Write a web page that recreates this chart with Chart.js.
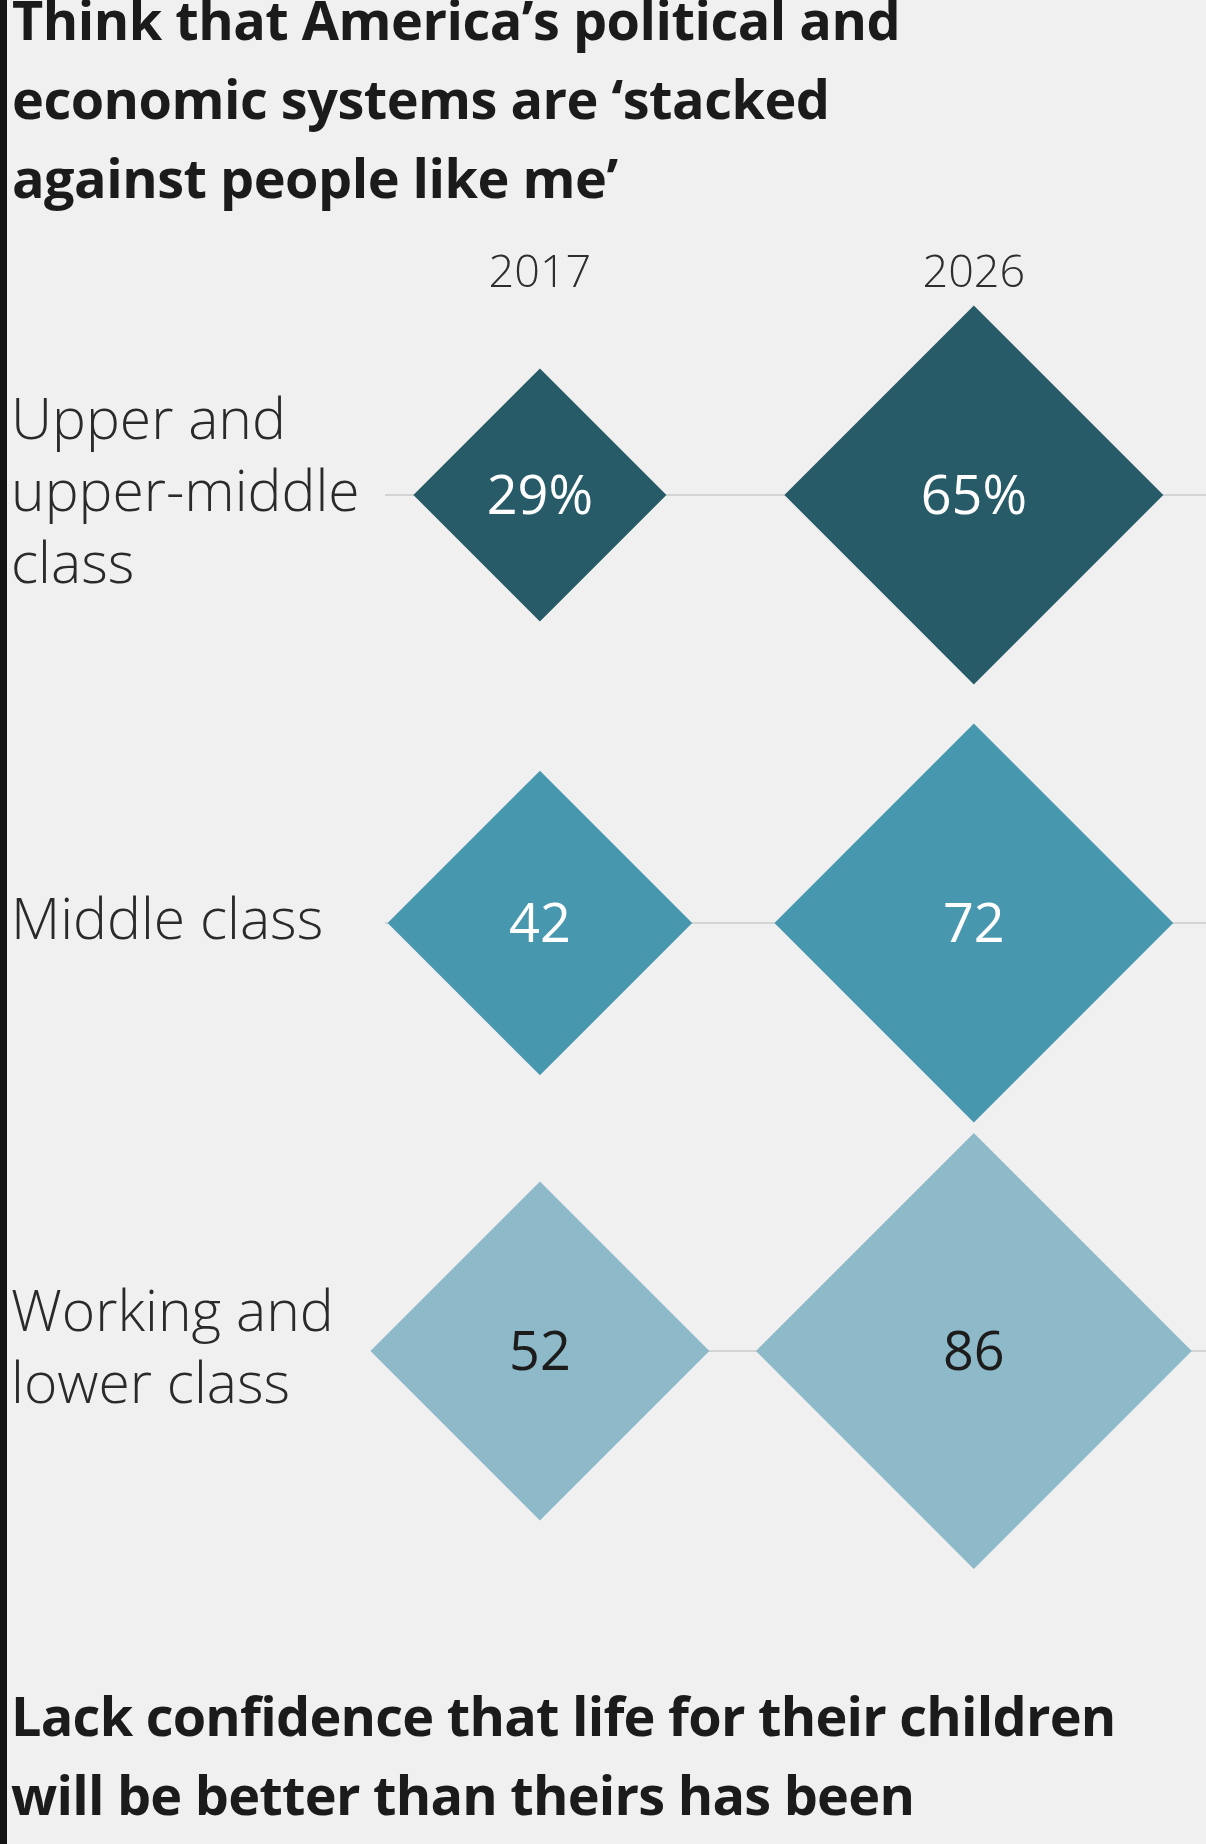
<!DOCTYPE html>
<html>
<head>
<meta charset="utf-8">
<script src="https://cdn.jsdelivr.net/npm/chart.js@4"></script>
<style>
  html, body { margin: 0; padding: 0; background: #f0f0f0; }
  body { width: 1206px; height: 1844px; position: relative; overflow: hidden; font-family: 'Open Sans', sans-serif; }
  #edge { position: absolute; left: 0; top: 0; width: 7px; height: 1844px; background: #141414; z-index: 2; }
  #chart { position: absolute; left: 0; top: 0; }
  .hed { position: absolute; left: 12px; font-weight: 700; font-size: 54px; line-height: 79px; letter-spacing: -0.5px; color: #1b1b1b; white-space: nowrap; z-index: 1; }
  #hed-top { top: -20px; }
  #hed-bottom { top: 1676px; left: 11px; letter-spacing: -0.75px; }
</style>
</head>
<body>
<div id="edge"></div>
<div class="hed" id="hed-top">Think that America’s political and<br>economic systems are ‘stacked<br>against people like me’</div>
<canvas id="chart" width="1206" height="1844"></canvas>
<div class="hed" id="hed-bottom">Lack confidence that life for their children<br>will be better than theirs has been</div>

<script>
// Survey data - share saying the system is stacked against them
const years = ['2017', '2026'];
const classLines = [['Upper and', 'upper-middle', 'class'], ['Middle class'], ['Working and', 'lower class']];
const share2017 = [29, 42, 52];
const share2026 = [65, 72, 86];

const series = [share2017, share2026];
const rowColors = ['#265b67', '#4797af', '#8db9c9'];
const textColors = ['#ffffff', '#ffffff', '#1c1c1c'];
const SIZE_K = 23.5; // diamond half-diagonal per sqrt(percent)

// Writes the value inside each diamond
const valueLabels = {
    id: 'valueLabels',
    afterDatasetsDraw(chart) {
        const ctx = chart.ctx;
        ctx.save();
        ctx.font = '400 54px "Open Sans"';
        ctx.textAlign = 'center';
        ctx.textBaseline = 'alphabetic';
        series.forEach((vals, j) => {
            chart.getDatasetMeta(j).data.forEach((pt, i) => {
                ctx.fillStyle = textColors[i];
                const txt = i === 0 ? vals[i] + '%' : String(vals[i]);
                ctx.fillText(txt, pt.x, pt.y + 19);
            });
        });
        ctx.restore();
    }
};

new Chart(document.getElementById('chart'), {
    type: 'scatter',
    data: {
        datasets: series.map((vals, j) => ({
            label: years[j],
            data: vals.map((v, i) => ({ x: j, y: i })),
            pointStyle: 'rectRot',
            pointRadius: vals.map(v => SIZE_K * Math.sqrt(v)),
            pointHoverRadius: vals.map(v => SIZE_K * Math.sqrt(v)),
            backgroundColor: rowColors,
            hoverBackgroundColor: rowColors,
            borderWidth: 0,
            hoverBorderWidth: 0,
            clip: false
        }))
    },
    options: {
        responsive: false,
        devicePixelRatio: 1,
        animation: false,
        events: [],
        // big diamonds would otherwise push the plot area in
        layout: { autoPadding: false, padding: { left: 11, top: 200, right: 0, bottom: 493 } },
        plugins: { legend: { display: false }, tooltip: { enabled: false } },
        scales: {
            x: {
                type: 'linear',
                position: 'top',
                min: -0.357,
                max: 1.535,
                grid: { display: false },
                border: { display: false },
                afterBuildTicks: s => { s.ticks = years.map((_, j) => ({ value: j })); },
                afterFit: s => { s.height = 295; s.paddingLeft = 0; s.paddingRight = 0; },
                ticks: {
                    callback: v => years[v],
                    autoSkip: false,
                    maxRotation: 0,
                    padding: 186,
                    color: '#2e2e2e',
                    font: { family: 'Open Sans', size: 45, weight: '300' }
                }
            },
            y: {
                type: 'category',
                labels: classLines,
                offset: false,
                grid: { color: '#d4d4d4', lineWidth: 2, drawTicks: false },
                border: { display: false },
                afterFit: s => { s.width = 374; s.paddingTop = 0; s.paddingBottom = 0; },
                ticks: {
                    crossAlign: 'far',
                    autoSkip: false,
                    color: '#2a2a2a',
                    font: { family: 'Open Sans', size: 57, weight: '300', lineHeight: 1.26 }
                }
            }
        }
    },
    plugins: [valueLabels]
});
</script>
</body>
</html>
